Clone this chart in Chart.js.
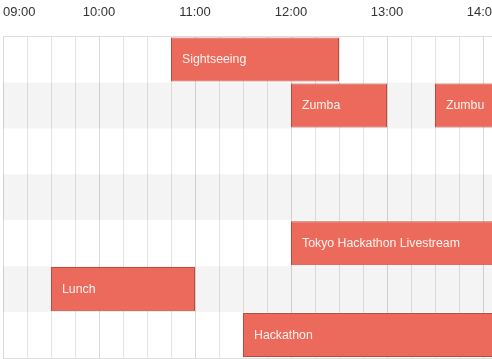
<!DOCTYPE html>
<html>
<head>
<meta charset="utf-8">
<script src="https://cdn.jsdelivr.net/npm/chart.js@4/dist/chart.umd.min.js"></script>
<style>
html,body{margin:0;padding:0;overflow:hidden;background:#fff;width:492px;height:359px;}
#wrap{position:relative;width:600px;height:359px;}
</style>
</head>
<body>
<div id="wrap"><canvas id="c" width="600" height="359"></canvas></div>
<script>
// Rows (resources) of the schedule, top to bottom
const rows = ["Row 1", "Row 2", "Row 3", "Row 4", "Row 5", "Row 6", "Row 7"];
// Primary events per row (hours, decimal); null = empty row
const eventNames  = ["Sightseeing", "Zumba", null, null, "Tokyo Hackathon Livestream", "Lunch", "Hackathon"];
const eventStarts = [10.75, 12.0, null, null, 12.0, 9.5, 11.5];
const eventEnds   = [12.5, 13.0, null, null, 15.0, 11.0, 15.0];
// Secondary events (second event in a row)
const extraNames  = [null, "Zumbu", null, null, null, null, null];
const extraStarts = [null, 13.5, null, null, null, null, null];
const extraEnds   = [null, 14.75, null, null, null, null, null];
// Time axis
const axisStart = 9;
const axisEnd = 15;
const hourLabels = ["09:00", "10:00", "11:00", "12:00", "13:00", "14:00", "15:00"];

const fill = "#ec6a5c";
const border = "#c4473b";

function toRanges(s, e) { return s.map((v, i) => v === null ? null : [v, e[i]]); }

const bandsPlugin = {
  id: "bands",
  beforeDatasetsDraw(chart) {
    const { ctx, chartArea, scales } = chart;
    const y = scales.y;
    ctx.save();
    rows.forEach((r, i) => {
      if (i % 2 === 1) {
        const c = y.getPixelForValue(i);
        const half = (y.getPixelForValue(1) - y.getPixelForValue(0)) / 2;
        ctx.fillStyle = "rgba(0,0,0,0.045)";
        ctx.fillRect(chartArea.left, c - half, chartArea.right - chartArea.left, half * 2);
      }
    });
    ctx.strokeStyle = "#dedede";
    ctx.lineWidth = 1;
    ctx.beginPath();
    ctx.moveTo(chartArea.left, chartArea.bottom + 0.5);
    ctx.lineTo(chartArea.right, chartArea.bottom + 0.5);
    ctx.stroke();
    ctx.restore();
  }
};

const labelPlugin = {
  id: "evlabels",
  afterDatasetsDraw(chart) {
    const { ctx } = chart;
    ctx.save();
    ctx.font = "12.3px 'Liberation Sans', Arial, sans-serif";
    ctx.fillStyle = "#fff3ee";
    ctx.textBaseline = "middle";
    ctx.textAlign = "left";
    chart.data.datasets.forEach((ds, di) => {
      const meta = chart.getDatasetMeta(di);
      meta.data.forEach((el, i) => {
        const name = ds.names[i];
        if (!name || ds.data[i] === null) return;
        const left = Math.min(el.x, el.base);
        ctx.fillText(name, left + 11, el.y + 0.5);
      });
    });
    ctx.restore();
  }
};

new Chart(document.getElementById("c"), {
  type: "bar",
  data: {
    labels: rows,
    datasets: [
      { data: toRanges(eventStarts, eventEnds), names: eventNames,
        backgroundColor: fill, borderColor: border, borderWidth: 1, borderSkipped: false,
        grouped: false, categoryPercentage: 1, barPercentage: 0.96 },
      { data: toRanges(extraStarts, extraEnds), names: extraNames,
        backgroundColor: fill, borderColor: border, borderWidth: 1, borderSkipped: false,
        grouped: false, categoryPercentage: 1, barPercentage: 0.96 }
    ]
  },
  options: {
    indexAxis: "y",
    responsive: false,
    animation: false,
    layout: { padding: { left: 3, right: 21, top: 5, bottom: 1 } },
    plugins: { legend: { display: false }, tooltip: { enabled: false } },
    scales: {
      x: {
        type: "linear",
        position: "top",
        min: axisStart,
        max: axisEnd,
        afterBuildTicks(scale) {
          const t = [];
          for (let i = 0; i <= (axisEnd - axisStart) * 4; i++) t.push({ value: axisStart + i * 0.25 });
          scale.ticks = t;
        },
        ticks: {
          autoSkip: false,
          maxRotation: 0,
          align: "inner",
          padding: 0,
          color: "#333",
          font: { family: "'Liberation Sans', Arial, sans-serif", size: 13 },
          callback(v) {
            const idx = Math.round((v - axisStart) * 4);
            return idx % 4 === 0 ? hourLabels[idx / 4] : "";
          }
        },
        grid: {
          drawTicks: true,
          tickLength: 16,
          tickColor: "rgba(0,0,0,0)",
          color(ctx) {
            const v = ctx.tick ? ctx.tick.value : 0;
            return Math.abs(v - Math.round(v)) < 1e-6 ? "#d9d9d9" : "#e4e4e4";
          }
        },
        border: { display: true, color: "#dedede" }
      },
      y: {
        display: false,
        offset: true
      }
    }
  },
  plugins: [bandsPlugin, labelPlugin]
});
</script>
</body>
</html>
